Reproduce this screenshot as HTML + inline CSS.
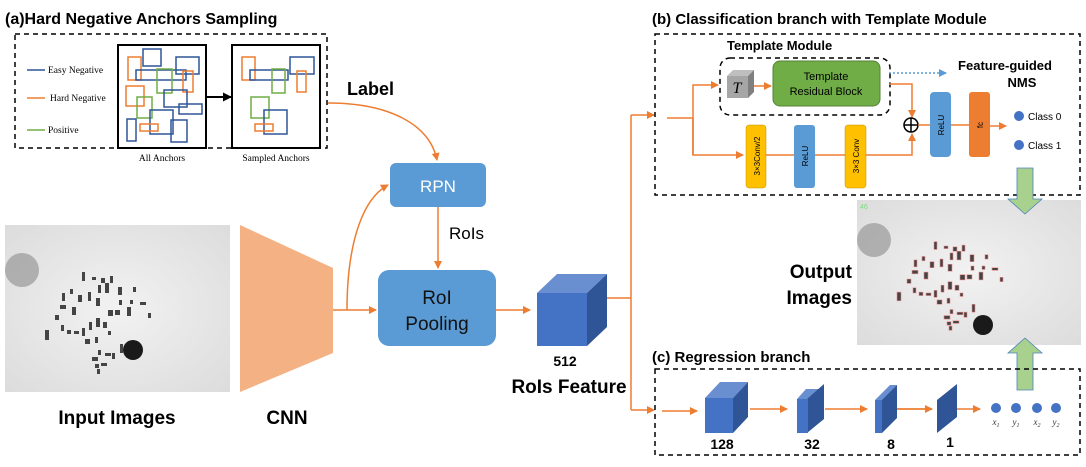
<!DOCTYPE html>
<html><head><meta charset="utf-8"><style>
html,body{margin:0;padding:0;background:#fff;}
svg{display:block;font-family:"Liberation Sans",sans-serif;}
</style></head><body>
<svg width="1086" height="467" viewBox="0 0 1086 467" xmlns="http://www.w3.org/2000/svg">
<defs>
<marker id="ao" markerWidth="8" markerHeight="8" refX="7" refY="4" orient="auto" markerUnits="userSpaceOnUse"><path d="M0,0 L8,4 L0,8 Z" fill="#ed7d31"/></marker>
<marker id="ak" markerWidth="9" markerHeight="9" refX="8" refY="4.5" orient="auto" markerUnits="userSpaceOnUse"><path d="M0,0 L9,4.5 L0,9 Z" fill="#000"/></marker>
<marker id="ab" markerWidth="8" markerHeight="8" refX="7" refY="4" orient="auto" markerUnits="userSpaceOnUse"><path d="M0,0 L8,4 L0,8 Z" fill="#5b9bd5"/></marker>
<radialGradient id="bg" cx="0.5" cy="0.5" r="0.7"><stop offset="0" stop-color="#f2f2f2"/><stop offset="1" stop-color="#dcdcdc"/></radialGradient>
<g id="chr">
<g fill="#444" stroke="currentColor" stroke-width="0.6">
<rect x="82" y="272" width="3" height="9"/><rect x="92" y="277" width="4" height="3"/><rect x="101" y="278" width="4" height="5"/><rect x="110" y="276" width="3" height="7"/>
<rect x="98" y="285" width="3" height="8"/><rect x="105" y="283" width="4" height="10"/><rect x="70" y="289" width="3" height="5"/><rect x="62" y="293" width="3" height="8"/>
<rect x="78" y="295" width="4" height="7"/><rect x="88" y="292" width="3" height="9"/><rect x="96" y="298" width="4" height="8"/><rect x="60" y="305" width="6" height="4"/>
<rect x="72" y="307" width="4" height="8"/><rect x="118" y="287" width="4" height="8"/><rect x="130" y="300" width="3" height="4"/><rect x="140" y="302" width="6" height="3"/>
<rect x="115" y="310" width="5" height="5"/><rect x="127" y="307" width="4" height="9"/><rect x="119" y="300" width="3" height="5"/><rect x="108" y="310" width="5" height="6"/>
<rect x="148" y="313" width="3" height="5"/><rect x="45" y="330" width="4" height="10"/><rect x="61" y="325" width="3" height="6"/><rect x="67" y="330" width="4" height="4"/>
<rect x="74" y="331" width="5" height="3"/><rect x="82" y="328" width="3" height="8"/><rect x="89" y="322" width="3" height="8"/><rect x="96" y="318" width="4" height="9"/>
<rect x="103" y="322" width="4" height="6"/><rect x="108" y="331" width="3" height="4"/><rect x="85" y="339" width="5" height="5"/><rect x="95" y="337" width="3" height="6"/>
<rect x="120" y="344" width="3" height="9"/><rect x="98" y="350" width="3" height="5"/><rect x="92" y="357" width="6" height="4"/><rect x="105" y="353" width="6" height="3"/>
<rect x="112" y="353" width="3" height="6"/><rect x="95" y="364" width="4" height="4"/><rect x="101" y="363" width="6" height="3"/><rect x="97" y="369" width="3" height="5"/>
<rect x="133" y="287" width="3" height="5"/><rect x="55" y="315" width="4" height="5"/>
</g>
</g>
</defs>

<!-- (a) -->
<text x="5" y="24" font-size="16" font-weight="bold">(a)Hard Negative Anchors Sampling</text>
<rect x="15" y="34" width="312" height="114" fill="none" stroke="#000" stroke-width="1.5" stroke-dasharray="5,4"/>
<g font-family="Liberation Serif,serif" font-size="9.5">
<line x1="27" y1="70" x2="45" y2="70" stroke="#2f5597" stroke-width="1.5"/><text x="48" y="73">Easy Negative</text>
<line x1="27" y1="98" x2="45" y2="98" stroke="#ed7d31" stroke-width="1.5"/><text x="50" y="101">Hard Negative</text>
<line x1="27" y1="130" x2="45" y2="130" stroke="#70ad47" stroke-width="1.5"/><text x="48" y="133">Positive</text>
<text x="162" y="161" text-anchor="middle">All Anchors</text>
<text x="276" y="161" text-anchor="middle">Sampled Anchors</text>
</g>
<rect x="118" y="45" width="88" height="103" fill="none" stroke="#000" stroke-width="2"/>
<rect x="232" y="45" width="88" height="103" fill="none" stroke="#000" stroke-width="2"/>
<line x1="206" y1="97" x2="231" y2="97" stroke="#000" stroke-width="2" marker-end="url(#ak)"/>
<g fill="none" stroke-width="1.5">
<rect x="143" y="49" width="18" height="17" stroke="#2f5597"/><rect x="176" y="57" width="23" height="17" stroke="#2f5597"/>
<rect x="128" y="57" width="13" height="23" stroke="#ed7d31"/><rect x="136" y="70" width="50" height="10" stroke="#2f5597"/>
<rect x="157" y="69" width="15" height="24" stroke="#70ad47"/><rect x="183" y="71" width="10" height="21" stroke="#ed7d31"/>
<rect x="126" y="86" width="18" height="20" stroke="#ed7d31"/><rect x="164" y="90" width="23" height="17" stroke="#2f5597"/>
<rect x="179" y="104" width="23" height="10" stroke="#2f5597"/><rect x="137" y="97" width="15" height="21" stroke="#70ad47"/>
<rect x="150" y="110" width="23" height="24" stroke="#2f5597"/><rect x="127" y="119" width="9" height="22" stroke="#2f5597"/>
<rect x="140" y="124" width="18" height="7" stroke="#ed7d31"/><rect x="171" y="120" width="16" height="22" stroke="#2f5597"/>
<rect x="242" y="57" width="13" height="23" stroke="#ed7d31"/><rect x="250" y="70" width="38" height="10" stroke="#2f5597"/>
<rect x="272" y="69" width="13" height="24" stroke="#70ad47"/><rect x="290" y="57" width="24" height="17" stroke="#2f5597"/>
<rect x="297" y="71" width="9" height="21" stroke="#ed7d31"/><rect x="251" y="97" width="18" height="21" stroke="#70ad47"/>
<rect x="264" y="110" width="23" height="24" stroke="#2f5597"/><rect x="255" y="124" width="18" height="7" stroke="#ed7d31"/>
</g>

<!-- Label -->
<text x="347" y="95" font-size="18" font-weight="bold">Label</text>
<path d="M328,103 C390,103 430,125 437,160" fill="none" stroke="#ed7d31" stroke-width="1.5" marker-end="url(#ao)"/>

<!-- RPN -->
<rect x="390" y="163" width="96" height="44" rx="6" fill="#5b9bd5"/>
<text x="438" y="192" font-size="17" fill="#fff" text-anchor="middle">RPN</text>
<line x1="438" y1="207" x2="438" y2="268" stroke="#ed7d31" stroke-width="1.5" marker-end="url(#ao)"/>
<text x="449" y="239" font-size="17">RoIs</text>
<rect x="378" y="270" width="118" height="76" rx="11" fill="#5b9bd5"/>
<text x="437" y="304" font-size="19" fill="#111" text-anchor="middle">RoI</text>
<text x="437" y="330" font-size="19" fill="#111" text-anchor="middle">Pooling</text>

<!-- Input image -->
<rect x="5" y="225" width="225" height="167" fill="url(#bg)"/>
<circle cx="22" cy="270" r="17" fill="#999" opacity="0.7"/>
<circle cx="133" cy="350" r="10" fill="#1a1a1a"/>
<use href="#chr" style="color:transparent"/>
<text x="117" y="424" font-size="19" font-weight="bold" text-anchor="middle">Input Images</text>

<!-- CNN -->
<polygon points="240,225 333,268 333,353 240,392" fill="#f4b183"/>
<text x="287" y="424" font-size="19" font-weight="bold" text-anchor="middle">CNN</text>
<line x1="333" y1="310" x2="376" y2="310" stroke="#ed7d31" stroke-width="1.5" marker-end="url(#ao)"/>
<path d="M347,310 C347,250 360,200 388,185" fill="none" stroke="#ed7d31" stroke-width="1.5" marker-end="url(#ao)"/>
<line x1="496" y1="310" x2="530" y2="310" stroke="#ed7d31" stroke-width="1.5" marker-end="url(#ao)"/>

<!-- Cube 512 -->
<polygon points="537,293 557,274 607,274 587,293" fill="#6a8fd0"/>
<polygon points="587,293 607,274 607,327 587,346" fill="#2f5597"/>
<rect x="537" y="293" width="50" height="53" fill="#4472c4"/>
<text x="565" y="366" font-size="14" font-weight="bold" text-anchor="middle">512</text>
<text x="569" y="393" font-size="19" font-weight="bold" text-anchor="middle">RoIs Feature</text>
<polyline points="607,298 631,298" fill="none" stroke="#ed7d31" stroke-width="1.5"/>
<line x1="631" y1="115" x2="631" y2="410" stroke="#ed7d31" stroke-width="1.5"/>
<line x1="631" y1="115" x2="654" y2="115" stroke="#ed7d31" stroke-width="1.5" marker-end="url(#ao)"/>
<line x1="631" y1="410" x2="654" y2="410" stroke="#ed7d31" stroke-width="1.5" marker-end="url(#ao)"/>

<!-- (b) -->
<text x="652" y="24" font-size="15" font-weight="bold">(b) Classification branch with Template Module</text>
<rect x="655" y="34" width="425" height="161" fill="none" stroke="#000" stroke-width="1.5" stroke-dasharray="5,4"/>
<text x="727" y="50" font-size="13" font-weight="bold">Template Module</text>
<rect x="720" y="58" width="170" height="57" rx="10" fill="none" stroke="#000" stroke-width="1.5" stroke-dasharray="5,4"/>
<polyline points="667,118 693,118" fill="none" stroke="#ed7d31" stroke-width="1.5"/>
<polyline points="693,155 693,85 718,85" fill="none" stroke="#ed7d31" stroke-width="1.5" marker-end="url(#ao)"/>
<polyline points="693,118 693,155 743,155" fill="none" stroke="#ed7d31" stroke-width="1.5" marker-end="url(#ao)"/>
<polygon points="727,76 733,70 754,70 748,76" fill="#bfbfbf"/>
<polygon points="748,76 754,70 754,92 748,98" fill="#7f7f7f"/>
<rect x="727" y="76" width="21" height="22" fill="#a6a6a6"/>
<text x="737" y="93" font-size="16" font-style="italic" font-family="Liberation Serif,serif" text-anchor="middle">T</text>
<line x1="754" y1="86" x2="771" y2="86" stroke="#ed7d31" stroke-width="1.5" marker-end="url(#ao)"/>
<rect x="773" y="61" width="107" height="45" rx="7" fill="#70ad47" stroke="#548235"/>
<text x="826" y="80" font-size="11" text-anchor="middle">Template</text>
<text x="826" y="95" font-size="11" text-anchor="middle">Residual Block</text>
<line x1="889" y1="73" x2="946" y2="73" stroke="#5b9bd5" stroke-width="1.5" stroke-dasharray="2,2" marker-end="url(#ab)"/>
<text x="1005" y="70" font-size="13" font-weight="bold" text-anchor="middle">Feature-guided</text>
<text x="1022" y="87" font-size="13" font-weight="bold" text-anchor="middle">NMS</text>
<polyline points="889,84 912,84 912,117" fill="none" stroke="#ed7d31" stroke-width="1.5" marker-end="url(#ao)"/>
<rect x="746" y="125" width="20" height="63" rx="3" fill="#ffc000" stroke="#c09000" stroke-width="0.5"/>
<text transform="translate(760,156) rotate(-90)" font-size="8" text-anchor="middle">3×3Conv/2</text>
<line x1="766" y1="155" x2="794" y2="155" stroke="#ed7d31" stroke-width="1.5"/>
<rect x="794" y="125" width="21" height="63" rx="3" fill="#5b9bd5"/>
<text transform="translate(808,156) rotate(-90)" font-size="8" text-anchor="middle">ReLU</text>
<line x1="815" y1="155" x2="845" y2="155" stroke="#ed7d31" stroke-width="1.5"/>
<rect x="845" y="125" width="21" height="63" rx="3" fill="#ffc000" stroke="#c09000" stroke-width="0.5"/>
<text transform="translate(859,156) rotate(-90)" font-size="8" text-anchor="middle">3×3 Conv</text>
<polyline points="866,155 912,155 912,134" fill="none" stroke="#ed7d31" stroke-width="1.5" marker-end="url(#ao)"/>
<circle cx="911" cy="125" r="7" fill="#fff" stroke="#000" stroke-width="1.5"/>
<line x1="904" y1="125" x2="918" y2="125" stroke="#000" stroke-width="1.5"/><line x1="911" y1="118" x2="911" y2="132" stroke="#000" stroke-width="1.5"/>
<line x1="918" y1="125" x2="930" y2="125" stroke="#ed7d31" stroke-width="1.5"/>
<rect x="930" y="92" width="21" height="65" rx="4" fill="#5b9bd5"/>
<text transform="translate(944,125) rotate(-90)" font-size="8" text-anchor="middle">ReLU</text>
<line x1="951" y1="125" x2="969" y2="125" stroke="#ed7d31" stroke-width="1.5"/>
<rect x="969" y="92" width="21" height="65" rx="3" fill="#ed7d31"/>
<text transform="translate(983,125) rotate(-90)" font-size="8" text-anchor="middle">fc</text>
<line x1="990" y1="126" x2="1006" y2="126" stroke="#ed7d31" stroke-width="1.5" marker-end="url(#ao)"/>
<circle cx="1019" cy="116" r="5" fill="#4472c4"/><text x="1028" y="120" font-size="10">Class 0</text>
<circle cx="1019" cy="145" r="5" fill="#4472c4"/><text x="1028" y="149" font-size="10">Class 1</text>

<!-- Output image -->
<rect x="857" y="200" width="224" height="145" fill="url(#bg)"/>
<text x="860" y="209" font-size="7" fill="#7fdc7f">46</text>
<circle cx="874" cy="240" r="17" fill="#999" opacity="0.7"/>
<circle cx="983" cy="325" r="10" fill="#1a1a1a"/>
<g transform="translate(852,5) scale(1,0.87)" style="color:#f08a8a"><use href="#chr"/></g>
<polygon points="1017,168 1033,168 1033,199 1042,199 1025,214 1008,199 1017,199" fill="#a9d18e" stroke="#4f81bd" stroke-width="0.8"/>
<polygon points="1017,390 1033,390 1033,353 1042,353 1025,338 1008,353 1017,353" fill="#a9d18e" stroke="#4f81bd" stroke-width="0.8"/>
<text x="852" y="278" font-size="19" font-weight="bold" text-anchor="end">Output</text>
<text x="852" y="304" font-size="19" font-weight="bold" text-anchor="end">Images</text>

<!-- (c) -->
<text x="652" y="362" font-size="15" font-weight="bold">(c) Regression branch</text>
<rect x="655" y="369" width="425" height="86" fill="none" stroke="#000" stroke-width="1.5" stroke-dasharray="5,4"/>
<line x1="662" y1="411" x2="697" y2="411" stroke="#ed7d31" stroke-width="1.5" marker-end="url(#ao)"/>
<polygon points="705,398 720,382 748,382 733,398" fill="#6a8fd0"/>
<polygon points="733,398 748,382 748,417 733,433" fill="#2f5597"/>
<rect x="705" y="398" width="28" height="35" fill="#4472c4"/>
<text x="722" y="449" font-size="14" font-weight="bold" text-anchor="middle">128</text>
<line x1="750" y1="409" x2="787" y2="409" stroke="#ed7d31" stroke-width="1.5" marker-end="url(#ao)"/>
<polygon points="797,399 806,389 824,389 813,399" fill="#6a8fd0"/>
<polygon points="807,399 824,384 824,419 807,433" fill="#2f5597"/>
<rect x="797" y="399" width="11" height="34" fill="#4472c4"/>
<text x="812" y="449" font-size="14" font-weight="bold" text-anchor="middle">32</text>
<line x1="825" y1="409" x2="867" y2="409" stroke="#ed7d31" stroke-width="1.5" marker-end="url(#ao)"/>
<polygon points="875,400 890,385 897,385 883,400" fill="#6a8fd0"/>
<polygon points="882,400 897,385 897,418 882,433" fill="#2f5597"/>
<rect x="875" y="400" width="7" height="33" fill="#4472c4"/>
<text x="891" y="449" font-size="14" font-weight="bold" text-anchor="middle">8</text>
<line x1="897" y1="409" x2="932" y2="409" stroke="#ed7d31" stroke-width="1.8" marker-end="url(#ao)"/>
<polygon points="937,400 957,384 957,417 937,433" fill="#2f5597"/>
<text x="950" y="447" font-size="14" font-weight="bold" text-anchor="middle">1</text>
<line x1="957" y1="409" x2="980" y2="409" stroke="#ed7d31" stroke-width="1.5" marker-end="url(#ao)"/>
<g fill="#4472c4"><circle cx="996" cy="408" r="5"/><circle cx="1016" cy="408" r="5"/><circle cx="1037" cy="408" r="5"/><circle cx="1056" cy="408" r="5"/></g>
<g font-family="Liberation Serif,serif" font-style="italic" font-size="9" fill="#333" text-anchor="middle">
<text x="996" y="425">x<tspan font-size="6" dy="2">1</tspan></text>
<text x="1016" y="425">y<tspan font-size="6" dy="2">1</tspan></text>
<text x="1037" y="425">x<tspan font-size="6" dy="2">2</tspan></text>
<text x="1056" y="425">y<tspan font-size="6" dy="2">2</tspan></text>
</g>
</svg>
</body></html>
